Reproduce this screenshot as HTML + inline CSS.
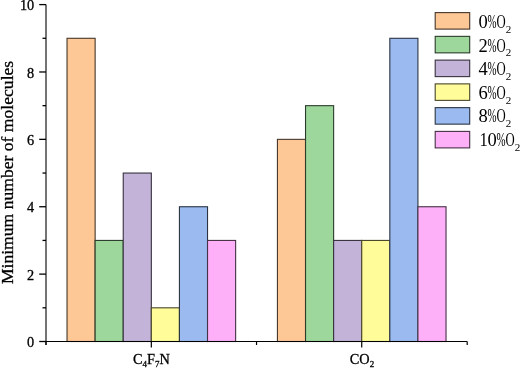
<!DOCTYPE html>
<html><head><meta charset="utf-8"><style>
html,body{margin:0;padding:0;background:#fff;}
svg{display:block;}
.t{font-family:"Liberation Serif",serif;font-size:14.3px;fill:#000;stroke:#000;stroke-width:0.3px;}
.sub{font-size:9px;}
.ttl{font-family:"Liberation Serif",serif;font-size:17.6px;fill:#000;stroke:#000;stroke-width:0.3px;}
.lg{font-family:"Liberation Serif",serif;font-size:18.5px;fill:#000;}
.lsub{font-size:11px;}
</style></head><body>
<svg width="520" height="368" viewBox="0 0 520 368">
<rect x="0" y="0" width="520" height="368" fill="#fff"/>
<g>
<rect x="67.03" y="38.29" width="28.10" height="303.21" fill="#FDC796" stroke="#46372a" stroke-width="1.1"/>
<rect x="95.13" y="240.43" width="28.10" height="101.07" fill="#9DD79B" stroke="#2b3c2b" stroke-width="1.1"/>
<rect x="123.23" y="173.05" width="28.10" height="168.45" fill="#C3B3D9" stroke="#36323c" stroke-width="1.1"/>
<rect x="151.33" y="307.81" width="28.10" height="33.69" fill="#FFFC99" stroke="#47462a" stroke-width="1.1"/>
<rect x="179.43" y="206.74" width="28.10" height="134.76" fill="#9BBBF0" stroke="#2b3443" stroke-width="1.1"/>
<rect x="207.53" y="240.43" width="28.10" height="101.07" fill="#FDB0F8" stroke="#463145" stroke-width="1.1"/>
<rect x="277.43" y="139.36" width="28.10" height="202.14" fill="#FDC796" stroke="#46372a" stroke-width="1.1"/>
<rect x="305.53" y="105.67" width="28.10" height="235.83" fill="#9DD79B" stroke="#2b3c2b" stroke-width="1.1"/>
<rect x="333.63" y="240.43" width="28.10" height="101.07" fill="#C3B3D9" stroke="#36323c" stroke-width="1.1"/>
<rect x="361.73" y="240.43" width="28.10" height="101.07" fill="#FFFC99" stroke="#47462a" stroke-width="1.1"/>
<rect x="389.83" y="38.29" width="28.10" height="303.21" fill="#9BBBF0" stroke="#2b3443" stroke-width="1.1"/>
<rect x="417.93" y="206.74" width="28.10" height="134.76" fill="#FDB0F8" stroke="#463145" stroke-width="1.1"/>
<line x1="46" y1="4.6" x2="46" y2="345" stroke="#000" stroke-width="1.1"/>
<line x1="46" y1="341.5" x2="467.2" y2="341.5" stroke="#000" stroke-width="1.2"/>
<line x1="39.2" y1="341.50" x2="46" y2="341.50" stroke="#000" stroke-width="1.3"/>
<text x="34.2" y="347.10" text-anchor="end" class="t">0</text>
<line x1="42.5" y1="307.81" x2="46" y2="307.81" stroke="#000" stroke-width="1.3"/>
<line x1="39.2" y1="274.12" x2="46" y2="274.12" stroke="#000" stroke-width="1.3"/>
<text x="34.2" y="279.72" text-anchor="end" class="t">2</text>
<line x1="42.5" y1="240.43" x2="46" y2="240.43" stroke="#000" stroke-width="1.3"/>
<line x1="39.2" y1="206.74" x2="46" y2="206.74" stroke="#000" stroke-width="1.3"/>
<text x="34.2" y="212.34" text-anchor="end" class="t">4</text>
<line x1="42.5" y1="173.05" x2="46" y2="173.05" stroke="#000" stroke-width="1.3"/>
<line x1="39.2" y1="139.36" x2="46" y2="139.36" stroke="#000" stroke-width="1.3"/>
<text x="34.2" y="144.96" text-anchor="end" class="t">6</text>
<line x1="42.5" y1="105.67" x2="46" y2="105.67" stroke="#000" stroke-width="1.3"/>
<line x1="39.2" y1="71.98" x2="46" y2="71.98" stroke="#000" stroke-width="1.3"/>
<text x="34.2" y="77.58" text-anchor="end" class="t">8</text>
<line x1="42.5" y1="38.29" x2="46" y2="38.29" stroke="#000" stroke-width="1.3"/>
<line x1="39.2" y1="4.60" x2="46" y2="4.60" stroke="#000" stroke-width="1.3"/>
<text x="34.2" y="10.20" text-anchor="end" class="t">10</text>
<line x1="46" y1="341.5" x2="46" y2="345.0" stroke="#000" stroke-width="1.2"/>
<line x1="151.33" y1="341.5" x2="151.33" y2="347.5" stroke="#000" stroke-width="1.2"/>
<line x1="256.53" y1="341.5" x2="256.53" y2="345.0" stroke="#000" stroke-width="1.2"/>
<line x1="361.73" y1="341.5" x2="361.73" y2="347.5" stroke="#000" stroke-width="1.2"/>
<line x1="467.2" y1="341.5" x2="467.2" y2="345.0" stroke="#000" stroke-width="1.2"/>
<text x="151.3" y="363.8" text-anchor="middle" class="t">C<tspan class="sub" dy="3">4</tspan><tspan dy="-3">F</tspan><tspan class="sub" dy="3">7</tspan><tspan dy="-3">N</tspan></text>
<text x="362" y="364.2" text-anchor="middle" class="t">CO<tspan class="sub" dy="3">2</tspan></text>
<text transform="translate(13,172.45) rotate(-90)" text-anchor="middle" class="ttl">Minimum number of molecules</text>
<rect x="435.2" y="12.60" width="34.5" height="16.5" fill="#FDC796" stroke="#46372a" stroke-width="1.1"/>
<text class="lg" text-anchor="middle"><tspan x="483.00" y="28.00">0</tspan><tspan x="492.00" y="28.00" textLength="9.0" lengthAdjust="spacingAndGlyphs">%</tspan><tspan x="501.00" y="28.00" textLength="9.2" lengthAdjust="spacingAndGlyphs">O</tspan><tspan class="lsub" x="505.70" y="32.90" text-anchor="start">2</tspan></text>
<rect x="435.2" y="36.36" width="34.5" height="16.5" fill="#9DD79B" stroke="#2b3c2b" stroke-width="1.1"/>
<text class="lg" text-anchor="middle"><tspan x="483.00" y="51.55">2</tspan><tspan x="492.00" y="51.55" textLength="9.0" lengthAdjust="spacingAndGlyphs">%</tspan><tspan x="501.00" y="51.55" textLength="9.2" lengthAdjust="spacingAndGlyphs">O</tspan><tspan class="lsub" x="505.70" y="56.45" text-anchor="start">2</tspan></text>
<rect x="435.2" y="60.12" width="34.5" height="16.5" fill="#C3B3D9" stroke="#36323c" stroke-width="1.1"/>
<text class="lg" text-anchor="middle"><tspan x="483.00" y="75.10">4</tspan><tspan x="492.00" y="75.10" textLength="9.0" lengthAdjust="spacingAndGlyphs">%</tspan><tspan x="501.00" y="75.10" textLength="9.2" lengthAdjust="spacingAndGlyphs">O</tspan><tspan class="lsub" x="505.70" y="80.00" text-anchor="start">2</tspan></text>
<rect x="435.2" y="83.88" width="34.5" height="16.5" fill="#FFFC99" stroke="#47462a" stroke-width="1.1"/>
<text class="lg" text-anchor="middle"><tspan x="483.00" y="98.65">6</tspan><tspan x="492.00" y="98.65" textLength="9.0" lengthAdjust="spacingAndGlyphs">%</tspan><tspan x="501.00" y="98.65" textLength="9.2" lengthAdjust="spacingAndGlyphs">O</tspan><tspan class="lsub" x="505.70" y="103.55" text-anchor="start">2</tspan></text>
<rect x="435.2" y="107.64" width="34.5" height="16.5" fill="#9BBBF0" stroke="#2b3443" stroke-width="1.1"/>
<text class="lg" text-anchor="middle"><tspan x="483.00" y="122.20">8</tspan><tspan x="492.00" y="122.20" textLength="9.0" lengthAdjust="spacingAndGlyphs">%</tspan><tspan x="501.00" y="122.20" textLength="9.2" lengthAdjust="spacingAndGlyphs">O</tspan><tspan class="lsub" x="505.70" y="127.10" text-anchor="start">2</tspan></text>
<rect x="435.2" y="131.40" width="34.5" height="16.5" fill="#FDB0F8" stroke="#463145" stroke-width="1.1"/>
<text class="lg" text-anchor="middle"><tspan x="483.60" y="145.75" textLength="8.3" lengthAdjust="spacingAndGlyphs">1</tspan><tspan x="492.00" y="145.75">0</tspan><tspan x="501.00" y="145.75" textLength="9.0" lengthAdjust="spacingAndGlyphs">%</tspan><tspan x="510.00" y="145.75" textLength="9.2" lengthAdjust="spacingAndGlyphs">O</tspan><tspan class="lsub" x="514.70" y="150.65" text-anchor="start">2</tspan></text>
</g>
</svg>
</body></html>
